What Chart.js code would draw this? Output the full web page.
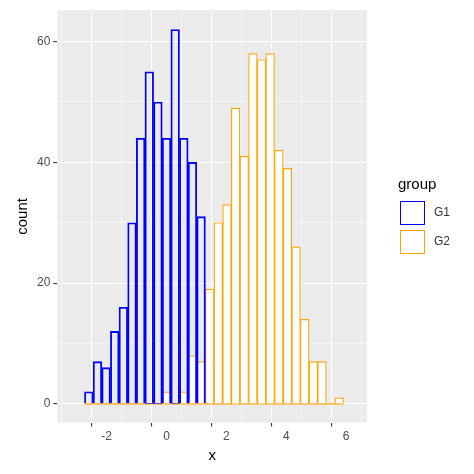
<!DOCTYPE html><html><head><meta charset="utf-8">
<script src="https://cdn.jsdelivr.net/npm/chart.js@4"></script>
<style>body{margin:0;background:#fff;font-family:"Liberation Sans",Arial,sans-serif}
#w{position:relative;width:474px;height:474px}
.lg{position:absolute;font-size:14px;color:#000}
.bx{position:absolute;width:23px;height:22px;background:#fff;border:1px solid}
</style></head><body><div id="w"><canvas id="c" width="474" height="474"></canvas>
<div class="lg" style="left:398px;top:175px;font-size:15px">group</div>
<div class="bx" style="left:400px;top:201px;border-color:#0000FF"></div>
<div class="lg" style="left:434px;top:205px;font-size:12px;color:#333">G1</div>
<div class="bx" style="left:400px;top:230px;border-color:#FFA500"></div>
<div class="lg" style="left:434px;top:234px;font-size:12px;color:#333">G2</div>
</div>
<script>
const binStart=-2.74, binWidth=0.2885;
const g1Counts=[2,7,6,12,16,30,44,55,50,44,62,44,40,31];
const g2Counts=[0,0,0,0,0,0,0,0,0,2,0,2,8,7,19,30,33,49,41,58,57,58,42,39,26,14,7,7,0,1];
const xTicks=[-2,0,2,4,6], yTicks=[0,20,40,60];
const pts=a=>a.map((v,i)=>({x:binStart+binWidth*(i+0.5),y:v}));
const grid={color:'#fff',lineWidth:c=>c.tick&&c.tick.major?1.1:0.5,tickLength:4,tickColor:c=>c.tick&&c.tick.major?'#333':'rgba(0,0,0,0)'};
const ch=new Chart(document.getElementById('c'),{type:'bar',
data:{datasets:[
{label:'G2',data:pts(g2Counts),backgroundColor:'#fff',borderColor:'#FFA500',borderWidth:1.2,barThickness:9,grouped:false,order:2},
{label:'G1',data:pts(g1Counts),backgroundColor:'rgba(255,255,255,0)',borderColor:'#0000FF',borderWidth:1.2,barThickness:9,grouped:false,order:1}]},
options:{responsive:false,animation:false,layout:{padding:{top:8,right:107,left:14,bottom:7}},
plugins:{legend:{display:false},tooltip:{enabled:false}},
scales:{
x:{type:'linear',min:-3.13,max:6.18,grid:grid,border:{display:false},
afterBuildTicks:s=>{s.ticks=[-3,-2,-1,0,1,2,3,4,5,6].map(v=>({value:v,major:xTicks.includes(v)}));},
ticks:{autoSkip:false,maxRotation:0,color:'#4D4D4D',font:{family:'Liberation Sans',size:12},callback:v=>xTicks.includes(v)?String(v):''},
title:{display:true,text:'x',color:'#000',font:{family:'Liberation Sans',size:15},padding:{top:0,bottom:2}}},
y:{min:-3.1,max:65.2,grid:grid,border:{display:false},
afterBuildTicks:s=>{s.ticks=[0,10,20,30,40,50,60].map(v=>({value:v,major:yTicks.includes(v)}));},
ticks:{autoSkip:false,color:'#4D4D4D',font:{family:'Liberation Sans',size:12},callback:v=>yTicks.includes(v)?String(v):''},
title:{display:true,text:'count',color:'#000',font:{family:'Liberation Sans',size:15},padding:{top:0,bottom:2}}}}},
plugins:[{id:'bg',beforeDraw(c){const a=c.chartArea,x=c.ctx;x.save();x.fillStyle='#EBEBEB';x.fillRect(a.left,a.top,a.right-a.left,a.bottom-a.top);x.restore();},
beforeDatasetsDraw(c){const x=c.ctx,xs=c.scales.x,ys=c.scales.y;x.save();x.strokeStyle='#FFA500';x.lineWidth=1.2;const y0=ys.getPixelForValue(0);x.beginPath();x.moveTo(xs.getPixelForValue(binStart),y0);x.lineTo(xs.getPixelForValue(binStart+binWidth*g2Counts.length),y0);x.stroke();x.restore();}}]
});
const xs=ch.scales.x;const w=xs.getPixelForValue(binWidth)-xs.getPixelForValue(0);
ch.data.datasets.forEach(d=>d.barThickness=w);ch.update();
</script></body></html>
